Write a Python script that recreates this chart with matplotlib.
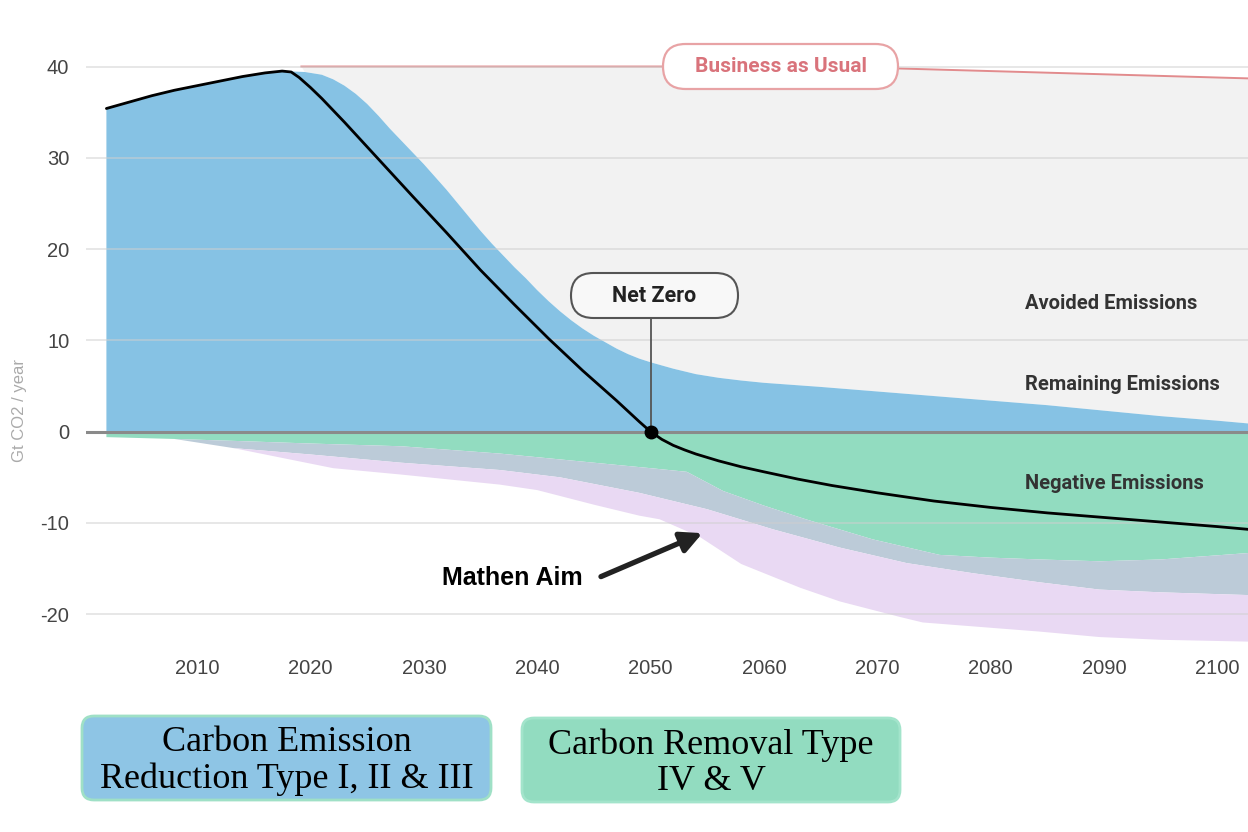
import matplotlib.pyplot as plt
from matplotlib.patches import FancyBboxPatch

plt.rcParams['axes.unicode_minus'] = False

# emissions pathway (black line), Gt CO2 / year
path_years = [2002, 2004, 2006, 2008, 2010, 2012, 2014, 2016, 2017.5, 2018.3, 2019, 2020,
              2021, 2022, 2023, 2025, 2027, 2029, 2032, 2035, 2038, 2041, 2044, 2046,
              2047, 2048, 2049, 2050, 2051, 2052, 2053, 2054, 2056, 2058, 2060, 2063,
              2066, 2070, 2075, 2080, 2085, 2090, 2095, 2100, 2102.7]
path_vals = [35.4, 36.1, 36.8, 37.4, 37.9, 38.4, 38.9, 39.3, 39.5, 39.4, 38.8, 37.7,
             36.5, 35.2, 33.9, 31.2, 28.5, 25.8, 21.8, 17.7, 13.9, 10.2, 6.7, 4.5,
             3.4, 2.25, 1.1, 0.0, -0.85, -1.5, -2.0, -2.45, -3.2, -3.85, -4.4, -5.2,
             -5.9, -6.7, -7.6, -8.3, -8.9, -9.4, -9.9, -10.4, -10.7]

# upper edge of remaining emissions (blue)
remain_years = [2002, 2004, 2006, 2008, 2010, 2012, 2014, 2016, 2017.5, 2019.5, 2021, 2022,
                2023, 2024, 2025, 2026, 2027, 2028, 2029, 2030, 2031, 2032, 2033, 2034,
                2035, 2036, 2037, 2038, 2039, 2040, 2041, 2042, 2043, 2044, 2045, 2046,
                2047, 2048, 2049, 2050, 2052, 2054, 2056, 2058, 2060, 2065, 2070, 2075,
                2080, 2085, 2090, 2095, 2100, 2102.7]
remain_vals = [35.4, 36.1, 36.8, 37.4, 37.9, 38.4, 38.9, 39.3, 39.5, 39.4, 39.1, 38.6,
               37.9, 37.0, 35.9, 34.6, 33.2, 31.9, 30.6, 29.3, 27.9, 26.5, 25.0, 23.5,
               22.0, 20.6, 19.3, 18.0, 16.8, 15.5, 14.3, 13.2, 12.2, 11.3, 10.5, 9.8,
               9.1, 8.5, 8.0, 7.6, 6.9, 6.3, 5.9, 5.6, 5.35, 4.9, 4.4, 3.9,
               3.4, 2.9, 2.3, 1.7, 1.2, 0.9]

# business as usual
bau_years = [2019.2, 2065.8, 2102.7]
bau_vals = [40.0, 40.0, 38.7]

# lower edges of the negative bands
green_years = [2002, 2008, 2013, 2020, 2028, 2036.7, 2045, 2050, 2053.2, 2056.4, 2060,
               2063.7, 2069.6, 2075.5, 2080, 2084.3, 2089.6, 2095, 2102.7]
green_vals = [-0.6, -0.8, -1.0, -1.3, -1.6, -2.4, -3.4, -4.0, -4.4, -6.5, -8.1,
              -9.6, -11.8, -13.5, -13.8, -14.0, -14.2, -14.0, -13.3]

slate_years = [2008, 2013.2, 2020, 2028, 2036.7, 2042, 2049, 2053, 2055, 2060.8, 2066.7,
               2072.6, 2078.4, 2084.3, 2089.6, 2095, 2102.7]
slate_vals = [-0.8, -1.8, -2.5, -3.4, -4.2, -5.0, -6.7, -7.9, -8.5, -10.7, -12.7,
              -14.4, -15.5, -16.5, -17.3, -17.6, -17.9]

purple_years = [2013.2, 2022, 2028, 2036.7, 2040, 2045, 2049, 2050.8, 2054.3, 2058, 2063.2,
                2066.7, 2072, 2074, 2084.3, 2089.6, 2095, 2102.7]
purple_vals = [-1.8, -4.0, -4.7, -5.8, -6.4, -8.0, -9.2, -9.6, -11.5, -14.5, -17.1,
               -18.6, -20.3, -20.9, -21.9, -22.5, -22.8, -23.0]

x_ticks = [2010, 2020, 2030, 2040, 2050, 2060, 2070, 2080, 2090, 2100]
y_ticks = [-20, -10, 0, 10, 20, 30, 40]

net_zero_year = 2050

BLUE = '#86c2e4'
GREEN = '#92dcc0'
SLATE = '#bccbd8'
PURPLE = '#e9d9f3'
GREY = '#f2f2f2'
W, H = 1248, 832


def band(xu, yu, xl, yl):
    # polygon between an upper and a lower edge
    return list(xu) + list(xl)[::-1], list(yu) + list(yl)[::-1]


def after(xs, vs, start):
    keep = [(x, v) for x, v in zip(xs, vs) if x >= start]
    return [k[0] for k in keep], [k[1] for k in keep]


def pill(fig, cx, cy, w, h, fc, ec, lw, r=None):
    # box given in image pixels (origin top left)
    r = h / 2 if r is None else r
    p = FancyBboxPatch(((cx - w / 2) / 100, (H - cy - h / 2) / 100), w / 100, h / 100,
                       boxstyle=f"round,pad=0,rounding_size={r / 100}",
                       transform=fig.dpi_scale_trans, fc=fc, ec=ec, lw=lw, zorder=10)
    fig.patches.append(p)


fig = plt.figure(figsize=(W / 100, H / 100), dpi=100)
ax = fig.add_axes([86 / W, 1 - 648 / H, 1 - 86 / W, (648 - 30) / H])
ax.set_xlim(2000.2, 2102.7)
ax.set_ylim(-23.7, 44)

# avoided emissions (grey)
ax.fill(*band(bau_years, bau_vals, *after(remain_years, remain_vals, bau_years[0])),
        color=GREY, lw=0, zorder=1)

# remaining emissions (blue)
ax.fill(*band(remain_years, remain_vals, [remain_years[0], remain_years[-1]], [0, 0]),
        color=BLUE, lw=0, zorder=2)

# negative bands
ax.fill(*band([green_years[0], green_years[-1]], [0, 0], green_years, green_vals),
        color=GREEN, lw=0, zorder=2)
ax.fill(*band(*after(green_years, green_vals, slate_years[0]), slate_years, slate_vals),
        color=SLATE, lw=0, zorder=2)
ax.fill(*band(*after(slate_years, slate_vals, purple_years[0]), purple_years, purple_vals),
        color=PURPLE, lw=0, zorder=2)

ax.plot(bau_years, bau_vals, color='#e28b8d', lw=1.4, zorder=3)

for t in y_ticks:
    if t != 0:
        ax.axhline(t, color='#cfcfcf', lw=1.3, alpha=0.55, zorder=3)
ax.axhline(0, color='#8a8a8a', lw=2.2, zorder=4)

ax.plot(path_years, path_vals, color='black', lw=2.0, zorder=6,
        solid_joinstyle='round', solid_capstyle='round')
ax.plot([net_zero_year], [0], 'o', color='black', ms=9, zorder=7)
ax.plot([net_zero_year, net_zero_year], [0, 12.5], color='#555555', lw=1.3, zorder=5)

for s in ax.spines.values():
    s.set_visible(False)
ax.set_xticks(x_ticks)
ax.set_yticks(y_ticks)
ax.tick_params(length=0, colors='#444444', labelsize=14.5, pad=8)
ax.tick_params(axis='y', pad=12)
for lab in ax.get_xticklabels() + ax.get_yticklabels():
    lab.set_family('Liberation Sans')

fig.text(20 / W, 1 - 410 / H, 'Gt CO2 / year', rotation=90, color='#aaaaaa',
         fontsize=12, ha='center', va='center', family='Liberation Sans')

# region labels
for txt, yv in [('Avoided Emissions', 14.0), ('Remaining Emissions', 5.2),
                ('Negative Emissions', -5.7)]:
    ax.text(2083.0, yv, txt, fontsize=14.5, fontweight='bold', color='#333333',
            family='Roboto', va='center', ha='left', zorder=8)

# callouts
pill(fig, 780.5, 66.5, 235, 45, 'white', '#e8a3a5', 1.6)
fig.text(780.5 / W, 1 - 66.5 / H, 'Business as Usual', fontsize=15, fontweight='bold',
         color='#d9737b', family='Roboto', ha='center', va='center', zorder=11)
pill(fig, 654.5, 295.5, 167, 45, '#f8f8f8', '#555555', 1.5)
fig.text(654.5 / W, 1 - 295.5 / H, 'Net Zero', fontsize=15.5, fontweight='bold',
         color='#222222', family='Roboto', ha='center', va='center', zorder=11)

ax.annotate('', xy=(2054.8, -11.0), xytext=(2045.4, -16.0),
            arrowprops=dict(arrowstyle='-|>', lw=3.8, color='#222222', mutation_scale=32),
            zorder=8)
ax.text(2037.8, -16.0, 'Mathen Aim', fontsize=18, fontweight='bold', color='black',
        family='Liberation Sans', ha='center', va='center', zorder=8)

# legend boxes
pill(fig, 286.5, 758, 409, 84, '#8ec5e5', '#9fe0c6', 2.0, r=12)
fig.text(286.5 / W, 1 - 761 / H, 'Carbon Emission\nReduction Type I, II & III',
         fontsize=26, family='Liberation Serif', color='black', ha='center', va='center',
         linespacing=1.1, zorder=11)
pill(fig, 711, 760, 378, 84, '#92dcc0', '#a3e4cb', 2.0, r=12)
fig.text(711 / W, 1 - 763 / H, 'Carbon Removal Type\nIV & V',
         fontsize=26, family='Liberation Serif', color='black', ha='center', va='center',
         linespacing=1.1, zorder=11)

fig.savefig('out.png', dpi=100, facecolor='white')
